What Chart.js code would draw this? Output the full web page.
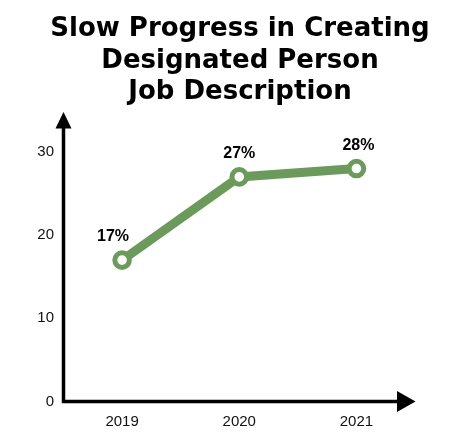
<!DOCTYPE html>
<html><head><meta charset="utf-8">
<script src="https://cdn.jsdelivr.net/npm/chart.js@4"></script>
<style>html,body{margin:0;padding:0;background:#fff;} #wrap{width:456px;height:441px;position:relative;}</style>
</head><body><div id="wrap"><canvas id="c"></canvas></div>
<script>
const titleLines = ['Slow Progress in Creating', 'Designated Person', 'Job Description'];
const years = ['2019', '2020', '2021'];
const shares = [17, 27, 28];
const yTicks = [0, 10, 20, 30];
const yMax = 34.8;
const GREEN = '#6B9B5A';
const TICK_FONT = '"Liberation Sans", Arial, sans-serif';

const titlePlugin = {
  id: 'stackTitle',
  afterDraw(chart) {
    const ctx = chart.ctx;
    ctx.save();
    ctx.fillStyle = '#000';
    ctx.font = 'bold 26px "DejaVu Sans"';
    ctx.textAlign = 'center';
    ctx.textBaseline = 'alphabetic';
    const base = [36, 67.5, 99];
    titleLines.forEach((t, i) => ctx.fillText(t, 240, base[i]));
    ctx.restore();
  }
};

const axesPlugin = {
  id: 'arrowAxes',
  beforeDatasetsDraw(chart) {
    const { ctx, chartArea: a } = chart;
    ctx.save();
    ctx.strokeStyle = '#000';
    ctx.fillStyle = '#000';
    ctx.lineWidth = 3.5;
    ctx.lineCap = 'butt';
    ctx.lineJoin = 'miter';
    ctx.beginPath();
    ctx.moveTo(a.left, a.top + 10);
    ctx.lineTo(a.left, a.bottom);
    ctx.lineTo(a.right - 10, a.bottom);
    ctx.stroke();
    ctx.beginPath();
    ctx.moveTo(a.left, a.top);
    ctx.lineTo(a.left - 8, a.top + 16.5);
    ctx.lineTo(a.left + 8, a.top + 16.5);
    ctx.closePath();
    ctx.fill();
    ctx.beginPath();
    ctx.moveTo(a.right + 0.5, a.bottom);
    ctx.lineTo(a.right - 18, a.bottom - 10.5);
    ctx.lineTo(a.right - 18, a.bottom + 10.5);
    ctx.closePath();
    ctx.fill();
    ctx.restore();
  }
};

const labelPlugin = {
  id: 'pctLabels',
  afterDatasetsDraw(chart, args, opts) {
    const ctx = chart.ctx;
    const meta = chart.getDatasetMeta(0);
    ctx.save();
    ctx.fillStyle = '#000';
    ctx.font = 'bold 16px ' + TICK_FONT;
    ctx.textAlign = 'center';
    ctx.textBaseline = 'middle';
    meta.data.forEach((pt, i) => {
      const dx = (opts.shift && opts.shift[i]) || 0;
      ctx.fillText(shares[i] + '%', pt.x + dx, pt.y - 23);
    });
    ctx.restore();
  }
};

new Chart(document.getElementById('c'), {
  type: 'line',
  data: {
    labels: years,
    datasets: [{
      data: shares,
      borderColor: GREEN,
      borderWidth: 9,
      tension: 0,
      pointRadius: 7.3,
      pointHoverRadius: 7.3,
      pointBorderWidth: 5,
      pointBackgroundColor: '#fff',
      pointBorderColor: GREEN,
      clip: false
    }]
  },
  options: {
    responsive: true,
    maintainAspectRatio: false,
    devicePixelRatio: 1,
    animation: false,
    layout: { padding: { top: 112, right: 41, left: 0, bottom: 0 } },
    plugins: {
      legend: { display: false },
      tooltip: { enabled: false },
      title: { display: false },
      pctLabels: { shift: [-9, 0, 2] }
    },
    scales: {
      x: {
        type: 'category',
        offset: true,
        grid: { display: false, drawTicks: false },
        border: { display: false },
        ticks: { padding: 11, color: '#111', font: { family: TICK_FONT, size: 15 } },
        afterFit(s) { s.height = 39.5; }
      },
      y: {
        min: 0,
        max: yMax,
        grid: { display: false, drawTicks: false },
        border: { display: false },
        ticks: { padding: 9.5, color: '#111', font: { family: TICK_FONT, size: 15 } },
        afterBuildTicks(s) { s.ticks = yTicks.map(v => ({ value: v })); },
        afterFit(s) { s.width = 63.5; }
      }
    }
  },
  plugins: [axesPlugin, labelPlugin, titlePlugin]
});
</script>
</body></html>
